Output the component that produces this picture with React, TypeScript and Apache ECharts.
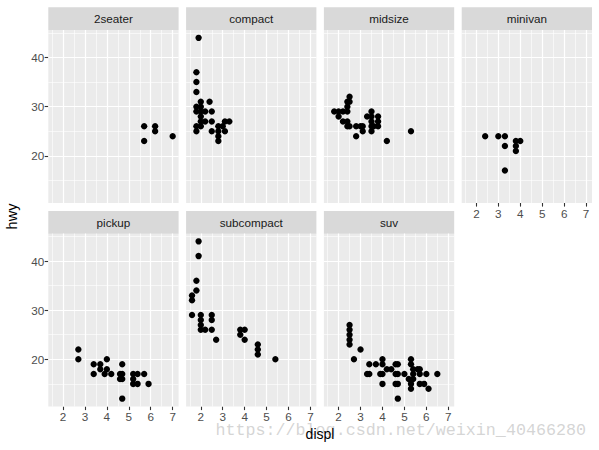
import { useEffect, useRef } from 'react'
import * as echarts from 'echarts'

// facet labels (mpg class)
const classes = ['2seater', 'compact', 'midsize', 'minivan', 'pickup', 'subcompact', 'suv']

// [displ, hwy] per class
const twoSeater = [[5.7, 26], [5.7, 23], [6.2, 26], [6.2, 25], [7.0, 24]]
const compact = [
  [1.8, 29], [2.0, 31], [2.0, 30], [2.8, 26], [3.1, 27], [1.8, 26], [1.8, 25], [2.0, 28],
  [2.0, 27], [2.8, 25], [3.1, 25], [2.2, 27], [2.2, 29], [2.4, 31], [3.0, 26], [3.3, 27],
  [1.8, 30], [1.8, 33], [1.8, 35], [1.8, 37], [2.0, 29], [2.0, 26], [2.8, 24], [1.9, 44],
  [2.5, 29], [2.8, 23], [2.5, 27], [2.5, 25],
]
const midsize = [
  [2.8, 24], [3.1, 25], [4.2, 23], [2.4, 27], [2.4, 30], [3.1, 26], [3.5, 29], [3.6, 26],
  [2.4, 26], [2.4, 31], [2.5, 26], [3.3, 28], [2.4, 29], [2.5, 31], [2.5, 32], [3.5, 27],
  [3.5, 26], [3.0, 26], [3.5, 25], [3.8, 26], [3.8, 27], [3.8, 28], [5.3, 25], [2.2, 29],
  [2.2, 27], [3.5, 28], [1.8, 29], [2.0, 28], [2.0, 29], [2.8, 26],
]
const minivan = [[2.4, 24], [3.0, 24], [3.3, 22], [3.3, 24], [3.3, 17], [3.8, 22], [3.8, 21], [3.8, 23], [4.0, 23]]
const pickup = [
  [3.7, 19], [3.7, 18], [3.9, 17], [4.7, 19], [4.7, 12], [5.2, 17], [5.2, 15], [4.7, 16],
  [4.7, 17], [5.2, 16], [5.7, 17], [5.9, 15], [4.2, 17], [4.6, 16], [4.6, 17], [5.4, 15],
  [5.4, 17], [2.7, 20], [2.7, 22], [3.4, 17], [3.4, 19], [4.0, 18], [4.0, 20],
]
const subcompact = [
  [3.8, 26], [3.8, 25], [4.0, 26], [4.0, 24], [4.6, 21], [4.6, 22], [4.6, 23], [5.4, 20],
  [1.6, 33], [1.6, 32], [1.6, 29], [1.8, 34], [1.8, 36], [2.0, 29], [2.0, 26], [2.0, 28],
  [2.0, 27], [2.7, 24], [2.2, 26], [2.5, 26], [1.9, 44], [1.9, 41], [2.5, 28], [2.5, 29],
]
const suv = [
  [5.3, 20], [5.3, 15], [5.7, 17], [6.0, 17], [5.3, 19], [5.3, 14], [5.7, 15], [6.5, 17],
  [3.9, 17], [4.7, 17], [4.7, 12], [5.2, 16], [5.7, 18], [5.9, 15], [4.6, 17], [5.4, 17],
  [5.4, 18], [4.0, 17], [4.0, 19], [4.6, 19], [5.0, 17], [3.0, 22], [3.7, 19], [4.0, 20],
  [4.7, 19], [6.1, 14], [4.0, 15], [4.2, 18], [4.4, 18], [4.6, 15], [5.4, 16], [3.3, 17],
  [5.6, 18], [2.5, 25], [2.5, 24], [2.5, 27], [2.5, 26], [2.5, 23], [2.7, 20], [3.4, 19],
  [3.4, 17], [4.7, 15],
]
const classPoints = [twoSeater, compact, midsize, minivan, pickup, subcompact, suv]

// axis breaks
const xTicks = [2, 3, 4, 5, 6, 7]
const xMinor = [1.5, 2.5, 3.5, 4.5, 5.5, 6.5]
const yTicks = [20, 30, 40]
const yMinor = [15, 25, 35, 45]
const xRange = [1.33, 7.27]
const yRange = [10.4, 45.6]

// layout (px)
const panelLefts = [48.3, 186.1, 323.9, 461.7]
const panelW = 130.3
const stripTops = [7.3, 211]
const stripH = 22.7
const panelTops = [30, 233.5]
const panelH = 173

const FONT = 'Liberation Sans, Arial, sans-serif'

export default function App() {
  const chartRef = useRef<HTMLDivElement>(null)

  useEffect(() => {
    if (!chartRef.current) return
    const chart = echarts.init(chartRef.current, undefined, { renderer: 'svg' })

    const grids: any[] = []
    const xAxes: any[] = []
    const yAxes: any[] = []
    const series: any[] = []
    const graphics: any[] = []

    classes.forEach((name, i) => {
      const row = Math.floor(i / 4)
      const col = i % 4
      const left = panelLefts[col]
      const showX = i >= 3
      const showY = col === 0

      grids.push({
        left,
        top: panelTops[row],
        width: panelW,
        height: panelH,
        show: true,
        backgroundColor: '#EBEBEB',
        borderWidth: 0,
      })

      xAxes.push({
        type: 'value',
        gridIndex: i,
        min: xRange[0],
        max: xRange[1],
        axisLine: { show: false },
        splitLine: { show: false },
        axisTick: {
          show: showX,
          length: 3.6,
          customValues: xTicks,
          lineStyle: { color: '#333333', width: 1.1 },
        },
        axisLabel: {
          show: showX,
          customValues: xTicks,
          color: '#4D4D4D',
          fontSize: 11.7,
          fontFamily: FONT,
          margin: 4,
        },
      })

      yAxes.push({
        type: 'value',
        gridIndex: i,
        min: yRange[0],
        max: yRange[1],
        axisLine: { show: false },
        splitLine: { show: false },
        axisTick: {
          show: showY,
          length: 3.6,
          customValues: yTicks,
          lineStyle: { color: '#333333', width: 1.1 },
        },
        axisLabel: {
          show: showY,
          customValues: yTicks,
          color: '#4D4D4D',
          fontSize: 11.7,
          fontFamily: FONT,
          margin: 4,
        },
      })

      const minorStyle = { color: '#FFFFFF', width: 0.6, type: 'solid' }
      const majorStyle = { color: '#FFFFFF', width: 1.2, type: 'solid' }

      // panel grid lines, kept under the points
      series.push({
        type: 'scatter',
        xAxisIndex: i,
        yAxisIndex: i,
        data: [],
        silent: true,
        z: 1,
        markLine: {
          z: 1,
          silent: true,
          animation: false,
          symbol: ['none', 'none'],
          label: { show: false },
          lineStyle: { type: 'solid', color: '#FFFFFF' },
          emphasis: { disabled: true },
          data: [
            ...xMinor.map((v) => ({ xAxis: v, lineStyle: minorStyle })),
            ...yMinor.map((v) => ({ yAxis: v, lineStyle: minorStyle })),
            ...xTicks.map((v) => ({ xAxis: v, lineStyle: majorStyle })),
            ...yTicks.map((v) => ({ yAxis: v, lineStyle: majorStyle })),
          ],
        },
      })

      series.push({
        type: 'scatter',
        name,
        xAxisIndex: i,
        yAxisIndex: i,
        data: classPoints[i],
        symbolSize: 6.4,
        itemStyle: { color: '#000000', opacity: 1 },
        z: 10,
      })

      // facet strip
      graphics.push({
        type: 'rect',
        shape: { x: left, y: stripTops[row], width: panelW, height: stripH },
        style: { fill: '#D9D9D9' },
        silent: true,
      })
      graphics.push({
        type: 'text',
        x: left + panelW / 2,
        y: stripTops[row] + stripH / 2,
        style: {
          text: name,
          fill: '#1A1A1A',
          font: `11.7px ${FONT}`,
          textAlign: 'center',
          textVerticalAlign: 'middle',
        },
        silent: true,
      })
    })

    // watermark
    graphics.push({
      type: 'text',
      x: 586,
      y: 430,
      style: {
        text: 'https://blog.csdn.net/weixin_40466280',
        fill: 'rgba(195,195,195,0.7)',
        font: '16.7px "Liberation Mono", monospace',
        textAlign: 'right',
        textVerticalAlign: 'middle',
      },
      silent: true,
      z: 5,
    })

    // axis titles
    graphics.push({
      type: 'text',
      x: 320,
      y: 434,
      style: {
        text: 'displ',
        fill: '#000000',
        font: `14px ${FONT}`,
        textAlign: 'center',
        textVerticalAlign: 'middle',
      },
      silent: true,
      z: 6,
    })
    graphics.push({
      type: 'text',
      x: 11.7,
      y: 216.5,
      rotation: Math.PI / 2,
      style: {
        text: 'hwy',
        fill: '#000000',
        font: `14.5px ${FONT}`,
        textAlign: 'center',
        textVerticalAlign: 'middle',
      },
      silent: true,
      z: 6,
    })

    chart.setOption({
      animation: false,
      backgroundColor: '#FFFFFF',
      grid: grids,
      xAxis: xAxes,
      yAxis: yAxes,
      series,
      graphic: graphics,
    })

    return () => {
      chart.dispose()
    }
  }, [])

  return (
    <div
      ref={chartRef}
      style={{ position: 'fixed', left: 0, top: 0, width: 599, height: 450 }}
    />
  )
}
